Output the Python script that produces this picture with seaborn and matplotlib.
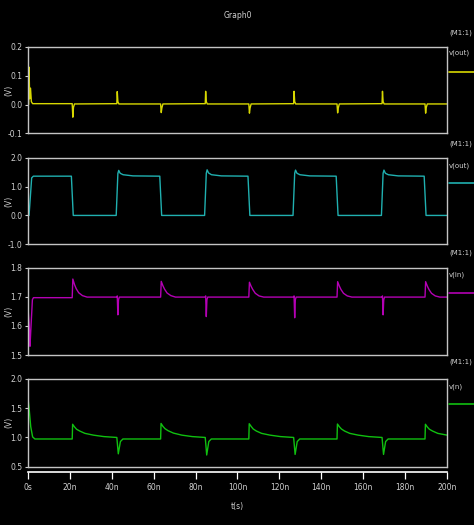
import matplotlib
matplotlib.use("Agg")
import matplotlib.pyplot as plt
import seaborn as sns
import pandas as pd

# ---------------- data (time in ns) ----------------
t_yellow = [0, 0.3, 0.5, 0.8, 1.2, 1.6, 2.2, 21.1,
            21.4, 21.7, 22.2, 42.4, 42.6, 42.9, 43.4, 63.3,
            63.6, 63.9, 64.4, 84.6, 84.8, 85.1, 85.6, 105.4,
            105.7, 106.0, 106.5, 126.8, 127.0, 127.3, 127.8, 147.5,
            147.8, 148.1, 148.6, 169.0, 169.2, 169.5, 170.0, 189.5,
            189.8, 190.1, 190.6, 200]
v_yellow = [0.0, 0.0, 0.13, 0.02, 0.057, 0.01, 0.003, 0.003,
            -0.044, -0.01, 0.002, 0.003, 0.045, 0.01, 0.002, 0.002,
            -0.028, -0.012, 0.002, 0.003, 0.046, 0.01, 0.002, 0.002,
            -0.03, -0.012, 0.002, 0.003, 0.046, 0.01, 0.002, 0.002,
            -0.029, -0.012, 0.002, 0.003, 0.046, 0.01, 0.002, 0.002,
            -0.03, -0.01, 0.002, 0.002]

t_cyan = [0, 0.5, 1.75, 2.55, 20.7, 21.6,
          42.1, 42.9, 43.3, 44.0, 45.4, 50.1, 62.9, 63.8,
          84.3, 85.1, 85.5, 86.2, 87.6, 92.3, 105.0, 105.9,
          126.5, 127.3, 127.7, 128.4, 129.8, 134.5, 147.1, 148.0,
          168.7, 169.5, 169.9, 170.6, 172.0, 176.7, 189.1, 190.0,
          200]
v_cyan = [0.0, 0.0, 1.30, 1.36, 1.36, 0.0,
          0.0, 1.45, 1.56, 1.46, 1.41, 1.37, 1.36, 0.0,
          0.0, 1.46, 1.58, 1.47, 1.41, 1.37, 1.36, 0.0,
          0.0, 1.46, 1.57, 1.46, 1.41, 1.37, 1.36, 0.0,
          0.0, 1.46, 1.57, 1.46, 1.41, 1.37, 1.36, 0.0,
          0.0]

t_magenta = [0, 0.6, 0.95, 1.3, 2.1, 2.6, 21.1,
             21.4, 22.2, 23.0, 24.2, 26.0, 28.2, 42.4, 42.6, 42.9, 43.2, 43.6, 63.3,
             63.6, 64.4, 65.2, 66.4, 68.2, 70.4, 84.6, 84.8, 85.1, 85.4, 85.8, 105.4,
             105.7, 106.5, 107.3, 108.5, 110.3, 112.5, 126.8, 127.0, 127.3, 127.6, 128.0, 147.5,
             147.8, 148.6, 149.4, 150.6, 152.4, 154.6, 169.0, 169.2, 169.5, 169.8, 170.2, 189.5,
             189.8, 190.6, 191.4, 192.6, 194.4, 196.6, 200]
v_magenta = [1.663, 1.60, 1.53, 1.58, 1.69, 1.697, 1.697,
             1.761, 1.742, 1.728, 1.714, 1.704, 1.699, 1.699, 1.703, 1.638, 1.69, 1.699, 1.699,
             1.753, 1.738, 1.726, 1.713, 1.704, 1.699, 1.699, 1.703, 1.632, 1.69, 1.699, 1.699,
             1.750, 1.736, 1.725, 1.712, 1.703, 1.699, 1.699, 1.703, 1.628, 1.69, 1.699, 1.699,
             1.752, 1.737, 1.725, 1.712, 1.703, 1.699, 1.699, 1.703, 1.638, 1.69, 1.699, 1.699,
             1.752, 1.737, 1.725, 1.712, 1.703, 1.699, 1.699]

t_green = [0, 0.6, 1.3, 2.2, 3.3, 21.1,
           21.3, 22.2, 23.2, 24.7, 27.2, 31.2, 36.2, 42.4, 43.1, 44.1, 45.3, 63.3,
           63.5, 64.4, 65.4, 66.9, 69.4, 73.4, 78.4, 84.6, 85.3, 86.3, 87.5, 105.4,
           105.6, 106.5, 107.5, 109.0, 111.5, 115.5, 120.5, 126.8, 127.5, 128.5, 129.7, 147.5,
           147.7, 148.6, 149.6, 151.1, 153.6, 157.6, 162.6, 169.0, 169.7, 170.7, 171.9, 189.5,
           189.7, 190.6, 191.6, 193.1, 195.6, 200]
v_green = [1.67, 1.47, 1.185, 1.01, 0.974, 0.974,
           1.226, 1.18, 1.14, 1.11, 1.07, 1.04, 1.015, 1.0, 0.72, 0.93, 0.974, 0.974,
           1.24, 1.19, 1.15, 1.115, 1.075, 1.04, 1.015, 1.0, 0.70, 0.93, 0.974, 0.974,
           1.235, 1.19, 1.145, 1.11, 1.07, 1.04, 1.015, 1.0, 0.71, 0.93, 0.974, 0.974,
           1.23, 1.185, 1.145, 1.11, 1.07, 1.04, 1.015, 1.0, 0.71, 0.93, 0.974, 0.974,
           1.226, 1.18, 1.14, 1.11, 1.07, 1.04]

yticks_1 = [0.2, 0.1, 0.0, -0.1]
yticks_2 = [2.0, 1.0, 0.0, -1.0]
yticks_3 = [1.8, 1.7, 1.6, 1.5]
yticks_4 = [2.0, 1.5, 1.0, 0.5]
ytick_labels_1 = ["0.2", "0.1", "0.0", "-0.1"]
ytick_labels_2 = ["2.0", "1.0", "0.0", "-1.0"]
ytick_labels_3 = ["1.8", "1.7", "1.6", "1.5"]
ytick_labels_4 = ["2.0", "1.5", "1.0", "0.5"]
xticks = [0, 20, 40, 60, 80, 100, 120, 140, 160, 180, 200]
xtick_labels = ["0s", "20n", "40n", "60n", "80n", "100n", "120n", "140n", "160n", "180n", "200n"]
legend_top = ["(M1:1)", "(M1:1)", "(M1:1)", "(M1:1)"]
legend_names = ["v(out)", "v(out)", "v(in)", "v(n)"]

# ---------------- style ----------------
sns.set_style("dark")
plt.rcParams.update({
    "figure.facecolor": "black",
    "axes.facecolor": "black",
    "savefig.facecolor": "black",
    "text.color": "#d0d0d0",
    "xtick.color": "#d0d0d0",
    "ytick.color": "#d0d0d0",
    "axes.grid": False,
})
plt.rcParams["font.family"] = ["DejaVu Sans"]

W, H = 474, 525
fig = plt.figure(figsize=(W / 100, H / 100), dpi=100)

spine_col = "#c4c4c4"
txt_col = "#d0d0d0"
fs = 5.5

panels = [
    (t_yellow, v_yellow, "#d8d800", (47, 133.3), yticks_1, ytick_labels_1, (-0.1, 0.2), 33, 53, 72),
    (t_cyan, v_cyan, "#20b0b0", (157.7, 244.3), yticks_2, ytick_labels_2, (-1.0, 2.0), 144, 166, 183),
    (t_magenta, v_magenta, "#b400b4", (267.7, 355), yticks_3, ytick_labels_3, (1.5, 1.8), 253, 275, 293),
    (t_green, v_green, "#10c010", (379, 466.7), yticks_4, ytick_labels_4, (0.5, 2.0), 362, 387, 404),
]

left, right = 28, 447
for i, (tt, vv, col, (top, bot), yt, ytl, ylim, ly1, ly2, lline) in enumerate(panels):
    ax = fig.add_axes([left / W, 1 - bot / H, (right - left) / W, (bot - top) / H])
    df = pd.DataFrame({"t": tt, "v": vv})
    sns.lineplot(data=df, x="t", y="v", ax=ax, color=col, linewidth=1.0,
                 estimator=None, sort=False)
    for s in ax.spines.values():
        s.set_visible(True)
        s.set_color(spine_col)
        s.set_linewidth(1.0)
    if i == 3:
        ax.spines["bottom"].set_position(("outward", 3.5))
        ax.spines["bottom"].set_color("white")
        ax.spines["bottom"].set_linewidth(1.2)
    ax.set_xlim(0, 200)
    ax.set_ylim(*ylim)
    ax.set_yticks(yt)
    ax.set_yticklabels(ytl)
    ax.tick_params(axis="y", direction="out", length=2.5, width=0.8, pad=1.5,
                   colors=txt_col, left=True, labelsize=fs)
    ax.set_xlabel("")
    ax.set_ylabel("")
    if i < 3:
        ax.set_xticks([])
    else:
        ax.set_xticks(xticks)
        ax.set_xticklabels(xtick_labels)
        ax.tick_params(axis="x", direction="out", length=5, width=0.9, pad=3,
                       colors="white", bottom=True, labelsize=fs, labelcolor=txt_col)
        ax.axhline(ylim[0], color=spine_col, linewidth=1.0, clip_on=False)
    # y-axis label
    fig.text(9 / W, 1 - ((top + bot) / 2) / H, "(V)", rotation=90, fontsize=fs,
             color=txt_col, ha="center", va="center")
    # right side legend
    fig.text(449 / W, 1 - ly1 / H, legend_top[i], fontsize=5, color=txt_col,
             ha="left", va="center")
    fig.text(449 / W, 1 - ly2 / H, legend_names[i], fontsize=5, color=txt_col,
             ha="left", va="center")
    fig.add_artist(plt.Line2D([449 / W, 1.0], [1 - lline / H, 1 - lline / H],
                              color=col, linewidth=1.2, transform=fig.transFigure))

fig.text(238 / W, 1 - 15 / H, "Graph0", fontsize=fs, color=txt_col, ha="center", va="center")
fig.text(237 / W, 1 - 507 / H, "t(s)", fontsize=fs, color=txt_col, ha="center", va="center")

fig.savefig("out.png", dpi=100, facecolor="black")
